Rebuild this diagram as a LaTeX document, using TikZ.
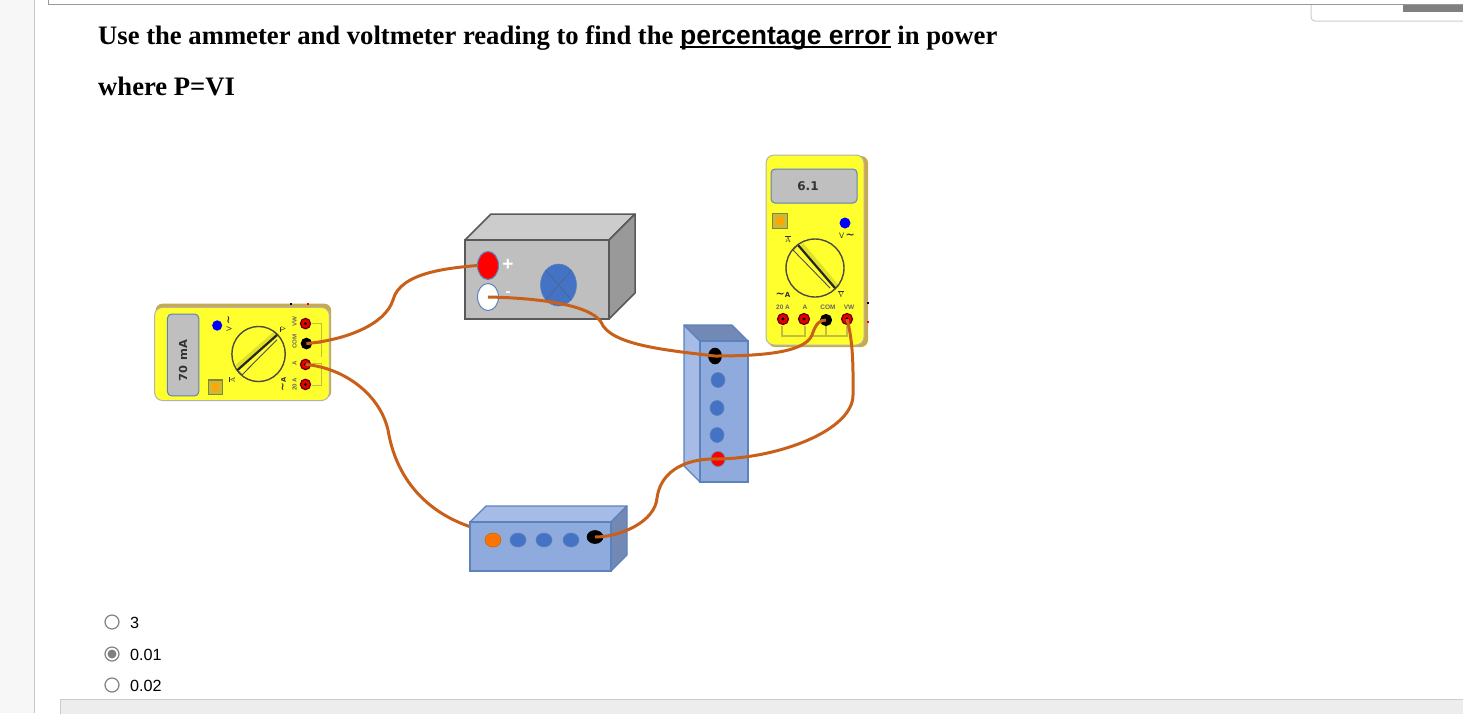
\documentclass[tikz,border=0pt]{standalone}
\usepackage{fontspec}
\setmainfont{Liberation Serif}
\setsansfont{Liberation Sans}
\newfontfamily\meterfont{DejaVu Sans}
\usepackage{tikz}
\usetikzlibrary{shapes}

\definecolor{wirecol}{HTML}{C8601A}
\definecolor{boxline}{HTML}{5B82BC}
\definecolor{boxfront}{HTML}{8FAADC}
\definecolor{boxlight}{HTML}{A6BCE6}
\definecolor{boxdark}{HTML}{7288B5}
\definecolor{socketblue}{HTML}{4472C4}
\definecolor{meteryellow}{HTML}{FFFF2E}
\definecolor{metershadow}{HTML}{C9A94E}
\definecolor{metertrim}{HTML}{C4BC40}

\newlength{\ullen}
\newcommand{\thickul}[1]{{\settowidth{\ullen}{#1}\rlap{\rule[-3.6pt]{\ullen}{1.8pt}}#1}}

\tikzset{
	wire/.style = {draw = wirecol, line width = 3pt},
	socket/.style = {ellipse, draw = boxline, line width = 0.6pt, fill = socketblue, minimum width = 14pt, minimum height = 15pt, inner sep = 0pt},
	terminal/.style = {circle, draw = red!40!black, line width = 1.2pt, fill = red!90!black, minimum size = 11pt, inner sep = 0pt},
	metertext/.style = {inner sep = 0pt, font = \sffamily\bfseries\fontsize{6.5}{6.5}\selectfont, text = black!60},
	meterlabel/.style = {inner sep = 0pt, font = \meterfont\bfseries\fontsize{7.5}{7.5}\selectfont, text = black!80},
	radio/.style = {circle, draw = black!50, line width = 1.2pt, fill = white, minimum size = 14pt, inner sep = 0pt},
	choice/.style = {anchor = base west, inner sep = 0pt, font = \sffamily\fontsize{16.2}{16.2}\selectfont},
	heading/.style = {anchor = base west, inner sep = 0pt, font = \bfseries\fontsize{26.65}{26.65}\selectfont}
}

% name, x, y, rotation, xscale, yscale, reading
\newcommand{\drawmeter}[7]{
\begin{scope}[shift = {(#2,#3)}, rotate = #4, xscale = #5, yscale = #6, transform shape]
	\fill[metershadow, rounded corners = 7pt] (-47,-94) rectangle (53,97);
	\fill[black] (52,52) rectangle (54,54);
	\fill[red] (52,71) rectangle (54,73);
	\draw[fill = meteryellow, draw = black!30, line width = 1pt, rounded corners = 8pt] (-49,-95) rectangle (49,95);
	\node[draw = boxline, line width = 1pt, fill = black!25, rounded corners = 4pt, minimum width = 86pt, minimum height = 34pt, inner sep = 0pt, font = \meterfont\bfseries\fontsize{12}{12}\selectfont, text = black!80] (#1display) at (-1,-64) {\raisebox{-2pt}{#7}\kern12pt};
	\node[draw = metertrim!70!black, line width = 1.4pt, fill = metertrim, minimum size = 15pt, inner sep = 0pt] (#1switch) at (-35,-29) {};
	\fill[orange!70!yellow] (-39,-33) rectangle (-31,-25);
	\node[circle, fill = blue, minimum size = 11pt, inner sep = 0pt] (#1power) at (30,-27) {};
	\node[meterlabel] at (32,-14) {\mdseries V\,\bfseries\fontsize{11}{11}\selectfont∼};
	\node[meterlabel] at (-27,-11) {$\overline{\mathrm{A}}$};
	\node[meterlabel] at (26,44) {$\overline{\mathrm{V}}$};
	\node[meterlabel] at (-32,45) {\fontsize{11}{11}\selectfont∼\fontsize{7}{7}\selectfont A};
	\node[circle, draw = black!80!yellow, line width = 1.4pt, minimum size = 58pt, inner sep = 0pt] (#1dial) at (0,18) {};
	\draw[line width = 6pt, black, opacity = 0.12] (-14,-5) -- (22,38);
	\draw[line width = 2.2pt, black!85] (-17,-5) -- (20,38);
	\draw[line width = 0.9pt, black!70] (-22,0) -- (15,38);
	\draw[line width = 0.9pt, black!70] (-22,0) -- (-17,-5);
	\node[metertext] at (-32,57) {20 A};
	\node[metertext] at (-10,57) {A};
	\node[metertext] at (13,57) {COM};
	\node[metertext] at (34,57) {VW};
	\draw[metertrim, line width = 1.1pt] (-33,76) -- (-33,86) -- (-10,86) -- (-10,76);
	\draw[metertrim, line width = 1.1pt] (-3,86) -- (32,86) -- (32,76);
	\draw[metertrim, line width = 1.1pt] (11,76) -- (11,86);
	\node[terminal] (#1a) at (-32,69) {};
	\node[terminal] (#1b) at (-11,69) {};
	\node[terminal, fill = black, draw = black] (#1c) at (11,70) {};
	\node[terminal] (#1d) at (32,69) {};
	\foreach \t in {a,b,d}{
		\fill[black] (#1\t) circle (1.7);
	}
\end{scope}
}

\begin{document}
\begin{tikzpicture}[x = 1pt, y = -1pt]
\useasboundingbox (0,0) rectangle (1463,713);

% page around the question
\fill[black!3] (0,0) rectangle (34,713);
\draw[black!22, line width = 1pt] (34,0) -- (34,713);
\draw[black!40, line width = 1pt] (48,0) -- (48,4) -- (1463,4);
\draw[black!20, line width = 1pt, rounded corners = 4pt] (1311,5) -- (1311,21) -- (1463,21);
\fill[black!50] (1403,5) rectangle (1463,12);
\draw[black!20, fill = black!7, line width = 1pt] (1463,699) -- (60,699) -- (60,714) -- (1463,714);

\node[heading] (title) at (98,44) {Use the ammeter and voltmeter reading to find the \thickul{\sffamily\fontsize{26.5}{26.5}\selectfont percentage error} in power};
\node[heading] (titleb) at (98,95) {where P=VI};

% meters
\drawmeter{vm}{815}{250}{0}{1}{1}{6.1}
\drawmeter{am}{242}{354}{90}{0.95}{0.92}{70\,\,\,mA}

% wire behind the lower box
\coordinate (lowin) at (490,532);
\draw[wire] (amb.center) .. controls (345,368) and (380,395) .. (388,430) .. controls (398,490) and (440,522) .. (lowin);

% source
\draw[black!65, line width = 1.5pt, fill = black!20, line join = round] (465,240) -- (491,214) -- (635,214) -- (609,240) -- cycle;
\draw[black!65, line width = 1.5pt, fill = black!40, line join = round] (609,240) -- (635,214) -- (635,293) -- (609,319) -- cycle;
\node[draw = black!65, line width = 1.5pt, fill = black!25, minimum width = 144pt, minimum height = 79pt, inner sep = 0pt] (source) at (537,279.5) {};
\node[ellipse, draw = boxline, line width = 1pt, fill = red, minimum width = 21pt, minimum height = 28pt, inner sep = 0pt] (pos) at (488,265.5) {};
\node[ellipse, draw = boxline, line width = 1pt, fill = white, minimum width = 21pt, minimum height = 27pt, inner sep = 0pt] (neg) at (488,297) {};
\node[inner sep = 0pt, text = white, font = \bfseries\sffamily\fontsize{19}{19}\selectfont] (posmark) at (508,265) {+};
\node[inner sep = 0pt, text = white, font = \bfseries\sffamily\fontsize{15}{15}\selectfont] (negmark) at (508,294) {-};
\node[ellipse, draw = boxline, line width = 0.6pt, fill = socketblue, minimum width = 36pt, minimum height = 42pt, inner sep = 0pt] (lamp) at (558.5,285) {};
\draw[boxline!80!black, line width = 0.8pt] (lamp.north west) -- (lamp.south east);
\draw[boxline!80!black, line width = 0.8pt] (lamp.north east) -- (lamp.south west);

% upright box
\draw[boxline, line width = 1.2pt, fill = boxlight, line join = round] (684,325) -- (700,341) -- (700,482) -- (684,466) -- cycle;
\draw[boxline, line width = 1.2pt, fill = boxdark, line join = round] (684,325) -- (732,325) -- (748,341) -- (700,341) -- cycle;
\node[draw = boxline, line width = 1.2pt, fill = boxfront, minimum width = 48pt, minimum height = 141pt, inner sep = 0pt] (upbox) at (724,411.5) {};
\node[socket, fill = black, draw = black, minimum width = 13pt, minimum height = 16pt] (upa) at (715,356) {};
\node[socket] (upb) at (718,380) {};
\node[socket] (upc) at (717,408) {};
\node[socket] (upd) at (717,435) {};
\node[socket, fill = red] (upe) at (718,459) {};

% lower box
\draw[boxline, line width = 1.2pt, fill = boxlight, line join = round] (470,522) -- (486,506) -- (627,506) -- (611,522) -- cycle;
\draw[boxline, line width = 1.2pt, fill = boxdark, line join = round] (611,522) -- (627,506) -- (627,555) -- (611,571) -- cycle;
\node[draw = boxline, line width = 1.2pt, fill = boxfront, minimum width = 141pt, minimum height = 49pt, inner sep = 0pt] (lowbox) at (540.5,546.5) {};
\node[socket, fill = orange!90!red, draw = orange!80!black, minimum width = 16pt, minimum height = 14pt] (lowa) at (493,540) {};
\node[socket, minimum width = 16pt, minimum height = 14pt] (lowb) at (518,540) {};
\node[socket, minimum width = 16pt, minimum height = 14pt] (lowc) at (544,540) {};
\node[socket, minimum width = 16pt, minimum height = 14pt] (lowd) at (571,540) {};
\node[socket, fill = black, draw = black, minimum width = 16pt, minimum height = 13pt] (lowe) at (595,537) {};

% wires
\draw[wire] (amc.center) .. controls (345,340) and (385,325) .. (393,300) .. controls (400,272) and (450,268) .. (pos.west);
\draw[wire] (neg.center) .. controls (540,298) and (590,305) .. (601,322) .. controls (610,345) and (665,350) .. (upa.center);
\draw[wire] (upa.center) .. controls (765,356) and (805,352) .. (812,335) .. controls (816,323) and (820,320) .. (vmc.center);
\draw[wire] (vmd.center) .. controls (854,345) and (853,375) .. (853,395) .. controls (853,430) and (780,458) .. (upe.center);
\draw[wire] (upe.center) .. controls (680,458) and (660,475) .. (657,498) .. controls (655,522) and (620,537) .. (lowe.center);

% answers
\node[radio] (ansa) at (112,622) {};
\node[radio] (ansb) at (112,654) {};
\node[circle, fill = black!50, minimum size = 9pt, inner sep = 0pt] (ansbdot) at (ansb) {};
\node[radio] (ansc) at (112,685) {};
\node[choice] (texta) at (130,628) {3};
\node[choice] (textb) at (130,660) {0.01};
\node[choice] (textc) at (130,691.5) {0.02};

\end{tikzpicture}
\end{document}
